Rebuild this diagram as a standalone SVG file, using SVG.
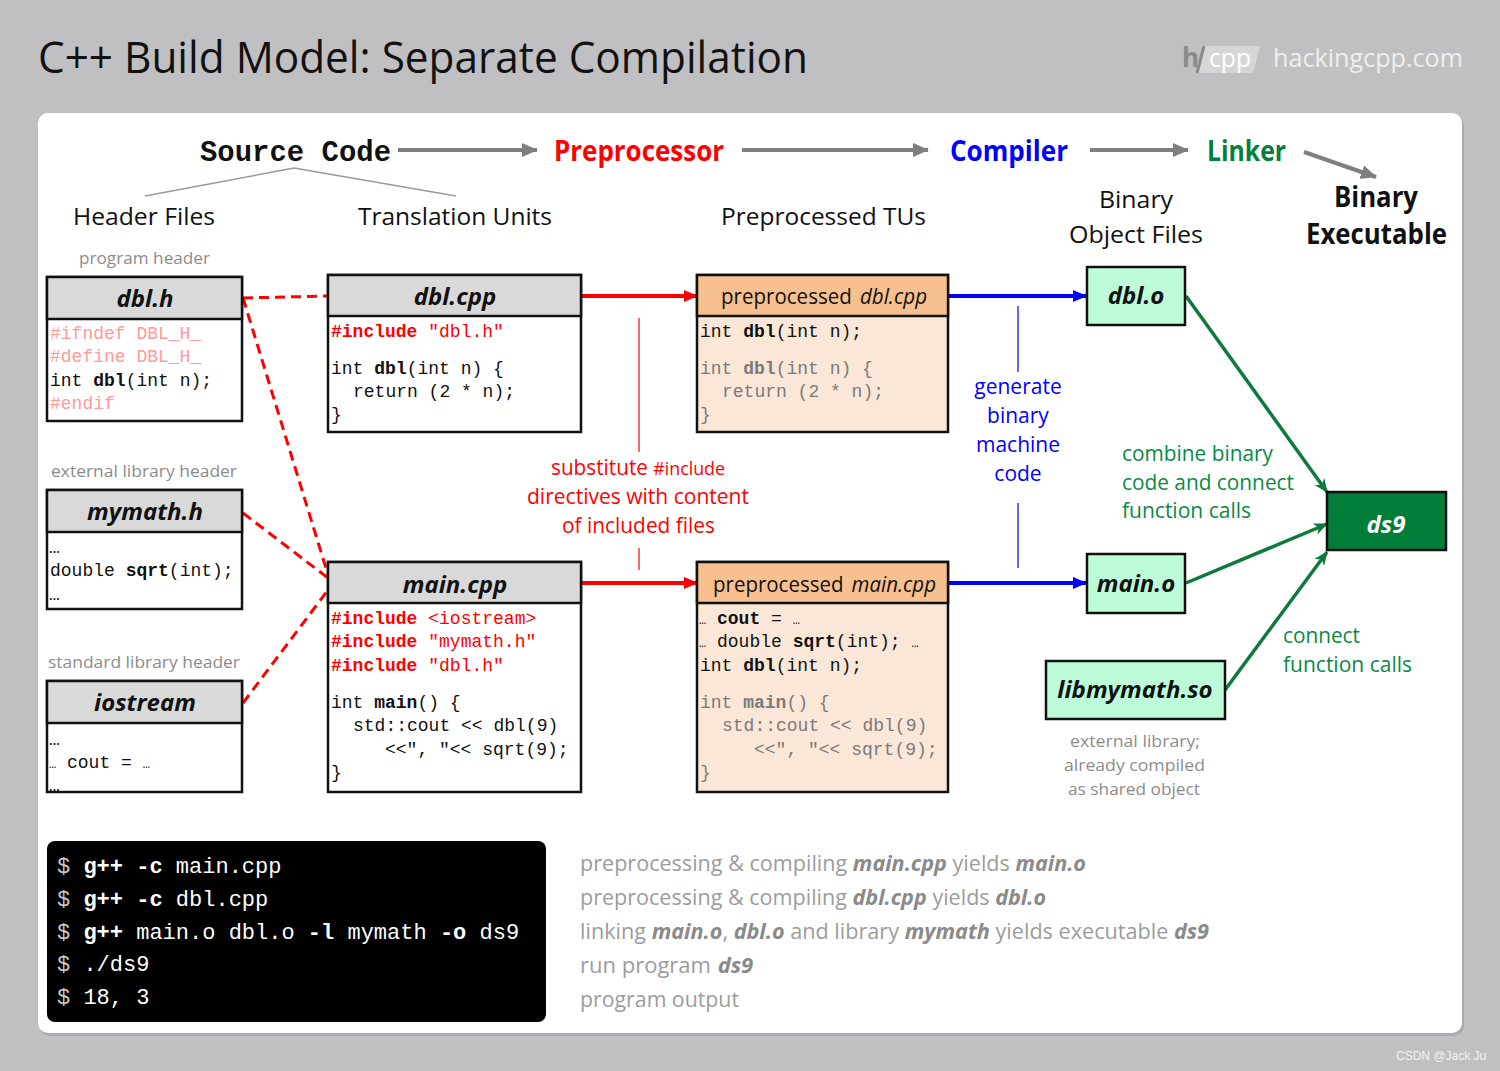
<svg xmlns="http://www.w3.org/2000/svg" width="1500" height="1071" viewBox="0 0 1500 1071">
<style>
.sans{font-family:"Open Sans","Noto Sans","DejaVu Sans",sans-serif}
.title{font-family:"Open Sans","Noto Sans",sans-serif;font-size:44px;fill:#111}
.hdr{font-family:"Open Sans","Noto Sans",sans-serif;font-size:28px;font-weight:bold}
.lbl{font-family:"Open Sans","Noto Sans",sans-serif;font-size:24px;fill:#111}
.small{font-family:"Open Sans","Noto Sans",sans-serif;font-size:17px;fill:#8c8c8c}
.note{font-family:"Open Sans","Noto Sans",sans-serif;font-size:21px}
.code{font-family:"Liberation Mono","DejaVu Sans Mono",monospace;font-size:18px;fill:#111}
.b{font-weight:bold}
.pink{fill:#ff9a9a}
.red{fill:#ff0000}
.gray{fill:#7a7a7a}
.box{stroke:#111;stroke-width:2.5}
.head{fill:#d9d9d9}
.ttl{font-family:"Open Sans","Noto Sans",sans-serif;font-size:24px;font-weight:bold;font-style:italic;fill:#111}
.pre{fill:#fbe7d7}
.prehead{fill:#f8c08e}
.obj{fill:#bdfcd8}
.term{font-family:"Liberation Mono","DejaVu Sans Mono",monospace;font-size:22px;fill:#fff}
.dollar{fill:#c8c8c8}
.desc{font-family:"Open Sans","Noto Sans",sans-serif;font-size:22px;fill:#9c9c9c}
.bi{font-weight:bold;font-style:italic;fill:#8a8a8a}
.dash{stroke:#ff0000;stroke-width:3;stroke-dasharray:10 6;fill:none}
</style>
<defs>
<marker id="ag" markerUnits="userSpaceOnUse" markerWidth="16" markerHeight="14" refX="15" refY="7" orient="auto"><path d="M0,0 L16,7 L0,14 Z" fill="#7f7f7f"/></marker>
<marker id="ar" markerUnits="userSpaceOnUse" markerWidth="14" markerHeight="12" refX="13" refY="6" orient="auto"><path d="M0,0 L14,6 L0,12 Z" fill="#ff0000"/></marker>
<marker id="ab" markerUnits="userSpaceOnUse" markerWidth="14" markerHeight="12" refX="13" refY="6" orient="auto"><path d="M0,0 L14,6 L0,12 Z" fill="#0000ff"/></marker>
<marker id="agr" markerUnits="userSpaceOnUse" markerWidth="14" markerHeight="12" refX="13" refY="6" orient="auto"><path d="M0,0 L14,6 L0,12 L4,6 Z" fill="#0b7a3b"/></marker>
</defs>

<rect width="1500" height="1071" fill="#c0c0c2"/>
<text class="title" x="38" y="73" textLength="770" lengthAdjust="spacingAndGlyphs">C++ Build Model: Separate Compilation</text>

<g id="logo">
<text class="sans" x="1182" y="67" font-size="26" font-weight="bold" fill="#8a8a8a">h</text>
<polygon points="1204,46 1260,46 1253,73 1197,73" fill="#d6d6d6"/>
<line x1="1197" y1="73" x2="1204" y2="46" stroke="#8a8a8a" stroke-width="3"/>
<text class="sans" x="1209" y="67" font-size="26" fill="#ffffff" textLength="42" lengthAdjust="spacingAndGlyphs">cpp</text>
<text class="sans" x="1273" y="67" font-size="26" fill="#eeeeee" textLength="190" lengthAdjust="spacingAndGlyphs">hackingcpp.com</text>
</g>

<rect x="40" y="116" width="1424" height="920" rx="10" fill="#acacae"/>
<rect x="38" y="113" width="1424" height="920" rx="10" fill="#ffffff"/>

<g id="header-row">
<text x="200" y="161" font-family="Liberation Mono,DejaVu Sans Mono,monospace" font-size="29" font-weight="bold" fill="#111" textLength="191" lengthAdjust="spacingAndGlyphs">Source Code</text>
<text class="hdr" x="554" y="161" fill="#ff0000" textLength="170" lengthAdjust="spacingAndGlyphs">Preprocessor</text>
<text class="hdr" x="950" y="161" fill="#0000ff" textLength="118" lengthAdjust="spacingAndGlyphs">Compiler</text>
<text class="hdr" x="1207" y="161" fill="#00803c" textLength="79" lengthAdjust="spacingAndGlyphs">Linker</text>
<text class="hdr" x="1334" y="207" fill="#111" textLength="84" lengthAdjust="spacingAndGlyphs">Binary</text>
<text class="hdr" x="1306" y="244" fill="#111" textLength="141" lengthAdjust="spacingAndGlyphs">Executable</text>
<line x1="294" y1="168" x2="145" y2="196" stroke="#999" stroke-width="1.5"/>
<line x1="294" y1="168" x2="456" y2="196" stroke="#999" stroke-width="1.5"/>
<text class="lbl" x="73" y="225" textLength="142" lengthAdjust="spacingAndGlyphs">Header Files</text>
<text class="lbl" x="358" y="225" textLength="194" lengthAdjust="spacingAndGlyphs">Translation Units</text>
<text class="lbl" x="721" y="225" textLength="205" lengthAdjust="spacingAndGlyphs">Preprocessed TUs</text>
<text class="lbl" x="1099" y="208" textLength="74" lengthAdjust="spacingAndGlyphs">Binary</text>
<text class="lbl" x="1069" y="243" textLength="134" lengthAdjust="spacingAndGlyphs">Object Files</text>
</g>

<g id="connectors">
<line x1="398" y1="150" x2="537" y2="150" stroke="#7f7f7f" stroke-width="4" marker-end="url(#ag)"/>
<line x1="742" y1="150" x2="928" y2="150" stroke="#7f7f7f" stroke-width="4" marker-end="url(#ag)"/>
<line x1="1090" y1="150" x2="1188" y2="150" stroke="#7f7f7f" stroke-width="4" marker-end="url(#ag)"/>
<line x1="1304" y1="152" x2="1376" y2="177" stroke="#7f7f7f" stroke-width="4" marker-end="url(#ag)"/>
<path class="dash" d="M243,298 L328,296"/>
<path class="dash" d="M243,298 L329,578"/>
<path class="dash" d="M243,513 L328,578"/>
<path class="dash" d="M243,703 L328,590"/>
<line x1="581" y1="296" x2="697" y2="296" stroke="#ff0000" stroke-width="4" marker-end="url(#ar)"/>
<line x1="581" y1="583" x2="697" y2="583" stroke="#ff0000" stroke-width="4" marker-end="url(#ar)"/>
<line x1="948" y1="296" x2="1086" y2="296" stroke="#0000ff" stroke-width="4" marker-end="url(#ab)"/>
<line x1="948" y1="583" x2="1086" y2="583" stroke="#0000ff" stroke-width="4" marker-end="url(#ab)"/>
<line x1="1186" y1="296" x2="1327" y2="492" stroke="#0b7a3b" stroke-width="3.5" marker-end="url(#agr)"/>
<line x1="1186" y1="583" x2="1327" y2="524" stroke="#0b7a3b" stroke-width="3.5" marker-end="url(#agr)"/>
<line x1="1225" y1="690" x2="1327" y2="552" stroke="#0b7a3b" stroke-width="3.5" marker-end="url(#agr)"/>
<line x1="639" y1="318" x2="639" y2="452" stroke="#ff0000" stroke-width="1.2"/>
<line x1="639" y1="548" x2="639" y2="570" stroke="#ff0000" stroke-width="1.2"/>
<line x1="1018" y1="306" x2="1018" y2="372" stroke="#0000ff" stroke-width="1.2"/>
<line x1="1018" y1="503" x2="1018" y2="568" stroke="#0000ff" stroke-width="1.2"/>
</g>

<g id="labels">
<text class="small" x="79" y="264" textLength="131" lengthAdjust="spacingAndGlyphs">program header</text>
<text class="small" x="51" y="477" textLength="186" lengthAdjust="spacingAndGlyphs">external library header</text>
<text class="small" x="48" y="668" textLength="192" lengthAdjust="spacingAndGlyphs">standard library header</text>
<text class="note" x="551" y="475" fill="#ff0000" textLength="174" lengthAdjust="spacingAndGlyphs">substitute <tspan font-size="18">#include</tspan></text>
<text class="note" x="527" y="504" fill="#ff0000" textLength="222" lengthAdjust="spacingAndGlyphs">directives with content</text>
<text class="note" x="562" y="533" fill="#ff0000" textLength="153" lengthAdjust="spacingAndGlyphs">of included files</text>
<g fill="#0000ff" class="note" text-anchor="middle">
<text x="1018" y="394">generate</text>
<text x="1018" y="423">binary</text>
<text x="1018" y="452">machine</text>
<text x="1018" y="481">code</text>
</g>
<text class="note" x="1122" y="461" fill="#0a8a45" textLength="151" lengthAdjust="spacingAndGlyphs">combine binary</text>
<text class="note" x="1122" y="490" fill="#0a8a45" textLength="172" lengthAdjust="spacingAndGlyphs">code and connect</text>
<text class="note" x="1122" y="518" fill="#0a8a45" textLength="129" lengthAdjust="spacingAndGlyphs">function calls</text>
<text class="note" x="1283" y="643" fill="#0a8a45" textLength="77" lengthAdjust="spacingAndGlyphs">connect</text>
<text class="note" x="1283" y="672" fill="#0a8a45" textLength="129" lengthAdjust="spacingAndGlyphs">function calls</text>
<text class="small" x="1070" y="747" textLength="130" lengthAdjust="spacingAndGlyphs">external library;</text>
<text class="small" x="1064" y="771" textLength="141" lengthAdjust="spacingAndGlyphs">already compiled</text>
<text class="small" x="1068" y="795" textLength="132" lengthAdjust="spacingAndGlyphs">as shared object</text>
</g>

<g id="dbl-h">
<rect class="box" x="47" y="277" width="195" height="144" fill="#fff"/>
<rect class="box head" x="47" y="277" width="195" height="42"/>
<text class="ttl" x="145" y="307" text-anchor="middle">dbl.h</text>
<text class="code pink" x="50" y="339">#ifndef DBL_H_</text>
<text class="code pink" x="50" y="362">#define DBL_H_</text>
<text class="code" x="50" y="386">int <tspan class="b">dbl</tspan>(int n);</text>
<text class="code pink" x="50" y="409">#endif</text>
</g>

<g id="mymath-h">
<rect class="box" x="47" y="490" width="195" height="119" fill="#fff"/>
<rect class="box head" x="47" y="490" width="195" height="42"/>
<text class="ttl" x="145" y="520" text-anchor="middle">mymath.h</text>
<text class="code" x="49" y="553" font-size="12">…</text>
<text class="code" x="50" y="576">double <tspan class="b">sqrt</tspan>(int);</text>
<text class="code" x="49" y="600" font-size="12">…</text>
</g>

<g id="iostream">
<rect class="box" x="47" y="681" width="195" height="111" fill="#fff"/>
<rect class="box head" x="47" y="681" width="195" height="42"/>
<text class="ttl" x="145" y="711" text-anchor="middle">iostream</text>
<text class="code" x="49" y="745" font-size="12">…</text>
<text class="code" x="49" y="768"><tspan font-size="12">…</tspan> cout = <tspan font-size="12">…</tspan></text>
<text class="code" x="49" y="791" font-size="12">…</text>
</g>

<g id="dbl-cpp">
<rect class="box" x="328" y="275" width="253" height="157" fill="#fff"/>
<rect class="box head" x="328" y="275" width="253" height="41"/>
<text class="ttl" x="455" y="305" text-anchor="middle">dbl.cpp</text>
<text class="code red" x="331" y="337"><tspan class="b">#include</tspan> "dbl.h"</text>
<text class="code" x="331" y="374">int <tspan class="b">dbl</tspan>(int n) {</text>
<text class="code" x="353" y="397">return (2 * n);</text>
<text class="code" x="331" y="420">}</text>
</g>

<g id="main-cpp">
<rect class="box" x="328" y="562" width="253" height="230" fill="#fff"/>
<rect class="box head" x="328" y="562" width="253" height="41"/>
<text class="ttl" x="455" y="593" text-anchor="middle">main.cpp</text>
<text class="code red" x="331" y="624"><tspan class="b">#include</tspan> &lt;iostream&gt;</text>
<text class="code red" x="331" y="647"><tspan class="b">#include</tspan> "mymath.h"</text>
<text class="code red" x="331" y="671"><tspan class="b">#include</tspan> "dbl.h"</text>
<text class="code" x="331" y="708">int <tspan class="b">main</tspan>() {</text>
<text class="code" x="353" y="731">std::cout &lt;&lt; dbl(9)</text>
<text class="code" x="385" y="755">&lt;&lt;", "&lt;&lt; sqrt(9);</text>
<text class="code" x="331" y="778">}</text>
</g>

<g id="pre-dbl">
<rect class="box pre" x="697" y="275" width="251" height="157"/>
<rect class="box prehead" x="697" y="275" width="251" height="41"/>
<text class="sans" x="721" y="304" font-size="22" fill="#111" textLength="206" lengthAdjust="spacingAndGlyphs">preprocessed <tspan font-style="italic" dx="3">dbl.cpp</tspan></text>
<text class="code" x="700" y="337">int <tspan class="b">dbl</tspan>(int n);</text>
<text class="code gray" x="700" y="374">int <tspan class="b">dbl</tspan>(int n) {</text>
<text class="code gray" x="722" y="397">return (2 * n);</text>
<text class="code gray" x="700" y="420">}</text>
</g>

<g id="pre-main">
<rect class="box pre" x="697" y="562" width="251" height="230"/>
<rect class="box prehead" x="697" y="562" width="251" height="41"/>
<text class="sans" x="713" y="592" font-size="22" fill="#111" textLength="223" lengthAdjust="spacingAndGlyphs">preprocessed <tspan font-style="italic" dx="3">main.cpp</tspan></text>
<text class="code" x="699" y="624"><tspan font-size="12">…</tspan> <tspan class="b">cout</tspan> = <tspan font-size="12">…</tspan></text>
<text class="code" x="699" y="647"><tspan font-size="12">…</tspan> double <tspan class="b">sqrt</tspan>(int); <tspan font-size="12">…</tspan></text>
<text class="code" x="700" y="671">int <tspan class="b">dbl</tspan>(int n);</text>
<text class="code gray" x="700" y="708">int <tspan class="b">main</tspan>() {</text>
<text class="code gray" x="722" y="731">std::cout &lt;&lt; dbl(9)</text>
<text class="code gray" x="754" y="755">&lt;&lt;", "&lt;&lt; sqrt(9);</text>
<text class="code gray" x="700" y="778">}</text>
</g>

<g id="dbl-o">
<rect class="box obj" x="1087" y="267" width="98" height="58"/>
<text class="ttl" x="1136" y="304" text-anchor="middle">dbl.o</text>
</g>
<g id="main-o">
<rect class="box obj" x="1087" y="554" width="98" height="59"/>
<text class="ttl" x="1136" y="592" text-anchor="middle">main.o</text>
</g>
<g id="libmymath">
<rect class="box obj" x="1046" y="661" width="179" height="58"/>
<text class="ttl" x="1135" y="698" text-anchor="middle">libmymath.so</text>
</g>
<g id="ds9">
<rect class="box" x="1327" y="492" width="119" height="58" fill="#007d38"/>
<text class="ttl" x="1386" y="533" text-anchor="middle" font-size="31" style="fill:#fff">ds9</text>
</g>

<g id="terminal">
<rect x="47" y="841" width="499" height="181" rx="8" fill="#000"/>
<text class="term" x="57" y="873"><tspan class="dollar">$</tspan> <tspan class="b">g++ -c</tspan> main.cpp</text>
<text class="term" x="57" y="906"><tspan class="dollar">$</tspan> <tspan class="b">g++ -c</tspan> dbl.cpp</text>
<text class="term" x="57" y="939"><tspan class="dollar">$</tspan> <tspan class="b">g++</tspan> main.o dbl.o <tspan class="b">-l</tspan> mymath <tspan class="b">-o</tspan> ds9</text>
<text class="term" x="57" y="971"><tspan class="dollar">$</tspan> ./ds9</text>
<text class="term" x="57" y="1004"><tspan class="dollar">$</tspan> 18, 3</text>
</g>

<g id="descriptions">
<text class="desc" x="580" y="871" textLength="506" lengthAdjust="spacingAndGlyphs">preprocessing &amp; compiling <tspan class="bi">main.cpp</tspan> yields <tspan class="bi">main.o</tspan></text>
<text class="desc" x="580" y="905" textLength="466" lengthAdjust="spacingAndGlyphs">preprocessing &amp; compiling <tspan class="bi">dbl.cpp</tspan> yields <tspan class="bi">dbl.o</tspan></text>
<text class="desc" x="580" y="939" textLength="629" lengthAdjust="spacingAndGlyphs">linking <tspan class="bi">main.o</tspan>, <tspan class="bi">dbl.o</tspan> and library <tspan class="bi">mymath</tspan> yields executable <tspan class="bi">ds9</tspan></text>
<text class="desc" x="580" y="973">run program <tspan class="bi" dx="1">ds9</tspan></text>
<text class="desc" x="580" y="1007" textLength="159" lengthAdjust="spacingAndGlyphs">program output</text>
</g>

<text x="1396" y="1060" font-family="Liberation Sans,Arial,sans-serif" font-size="12" fill="#f2f2f2">CSDN @Jack Ju</text>
</svg>
